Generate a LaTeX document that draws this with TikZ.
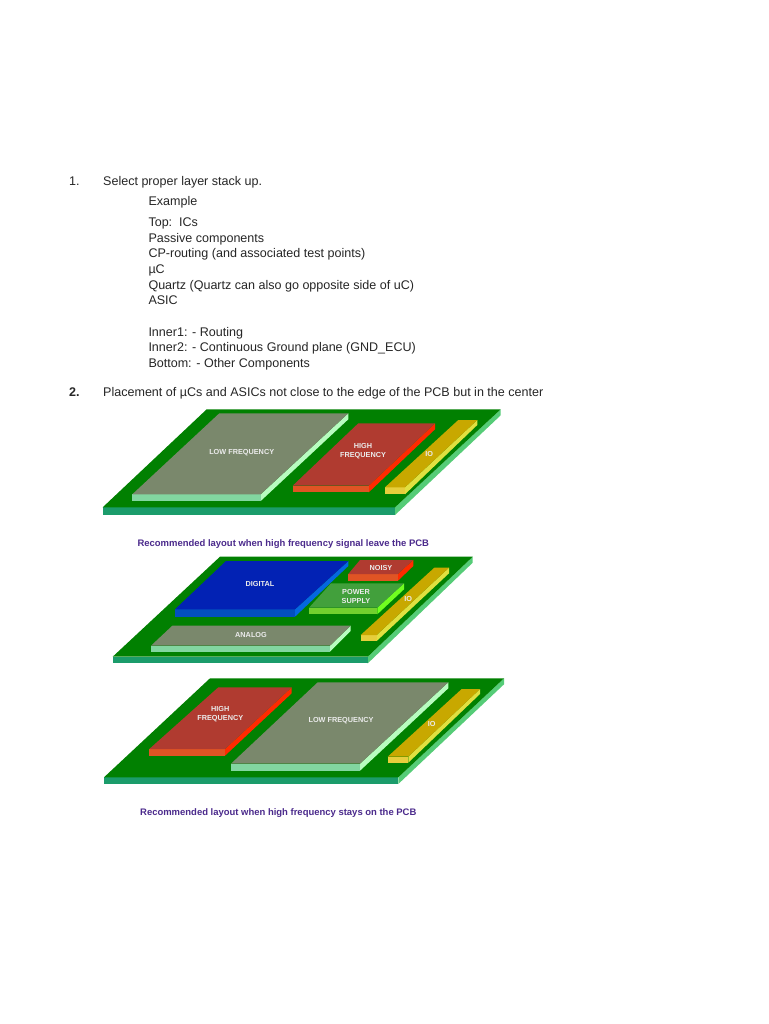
\documentclass[tikz,border=0pt]{standalone}
\usepackage{fontspec}
\setmainfont{Liberation Sans}
\usepackage{tikz}
\usetikzlibrary{calc}
\definecolor{boardtop}{HTML}{018001}
\definecolor{boardfront}{HTML}{1B9C6B}
\definecolor{boardside}{HTML}{55CC77}
\definecolor{greytop}{HTML}{7A886C}
\definecolor{greyfront}{HTML}{82D6A0}
\definecolor{greyside}{HTML}{B8FCC0}
\definecolor{redtop}{HTML}{B03B30}
\definecolor{redfront}{HTML}{E05424}
\definecolor{redside}{HTML}{FF2A00}
\definecolor{iotop}{HTML}{C8A800}
\definecolor{iofront}{HTML}{E6CE3C}
\definecolor{ioside}{HTML}{E0E040}
\definecolor{bluetop}{HTML}{0222B4}
\definecolor{bluefront}{HTML}{0350BE}
\definecolor{blueside}{HTML}{0468E0}
\definecolor{powertop}{HTML}{42A03C}
\definecolor{powerfront}{HTML}{72D02E}
\definecolor{powerside}{HTML}{70FF20}
\definecolor{capcolor}{HTML}{4B2A8C}
\tikzset{
  bodytext/.style={anchor=base west, inner sep=0pt, text=black!85, font=\fontsize{12.54}{14}\selectfont},
  slablabel/.style={inner sep=0pt, text=white!92!black, align=center, font=\fontsize{7.3}{9}\selectfont\bfseries},
  captext/.style={inner sep=0pt, text=capcolor, font=\fontsize{9.47}{11}\selectfont\bfseries},
}
% colour, top left, top right, bottom left, bottom right, front height, side height
\newcommand{\slab}[7]{
\fill[#1side] (#3) -- ++(0,#7) -- ($(#5)+(0,#6)$) -- (#5) -- cycle;
\fill[#1front] (#4) -- ++(0,#6) -| (#5) -- cycle;
\fill[#1top] (#2) -- (#3) -- (#5) -- (#4) -- cycle;
}
\begin{document}
\begin{tikzpicture}[x=1pt, y=-1pt]
\useasboundingbox[fill=white] (0,0) rectangle (768,1024);
% text
\node[bodytext] (numone) at (69,185.7) {1.};
\node[bodytext] (stack) at (103,185.7) {Select proper layer stack up.};
\node[bodytext] (example) at (148.3,206) {Example};
\node[bodytext] (top) at (148.3,226.7) {Top:\ \ ICs};
\node[bodytext] (passive) at (148.3,242) {Passive components};
\node[bodytext] (cprouting) at (148.3,257.7) {CP-routing (and associated test points)};
\node[bodytext] (muc) at (148.3,273.3) {µC};
\node[bodytext] (quartz) at (148.3,289) {Quartz (Quartz can also go opposite side of uC)};
\node[bodytext] (asic) at (148.3,304.3) {ASIC};
\node[bodytext] (innerone) at (148.3,336) {Inner1: - Routing};
\node[bodytext] (innertwo) at (148.3,351.7) {Inner2: - Continuous Ground plane (GND\_ECU)};
\node[bodytext] (bottom) at (148.3,367.3) {Bottom: - Other Components};
\node[bodytext] (numtwo) at (69,396.7) {\bfseries 2.};
\node[bodytext] (placement) at (103,396.7) {Placement of µCs and ASICs not close to the edge of the PCB but in the center};
% first board
\slab{board}{206.7,409.3}{500.7,409.3}{102.7,507.3}{395,507.3}{7.7}{6}
\slab{grey}{219.3,413.3}{348.3,413.3}{132.3,494.3}{260.7,494.3}{6.7}{6}
\slab{red}{358.3,423.3}{435,423.3}{292.7,485.7}{368.7,485.7}{6.7}{6}
\slab{io}{458.3,420}{477.3,420}{385,487.3}{405,487.3}{7}{5}
\node[slablabel] (lowone) at (241.7,452.3) {LOW FREQUENCY};
\node[slablabel] (highone) at (363,451) {HIGH\\FREQUENCY};
\node[slablabel] (ioone) at (429.3,454.3) {IO};
\node[captext] (capone) at (283.3,544) {Recommended layout when high frequency signal leave the PCB};
% second board
\slab{board}{220,556.7}{472.7,556.7}{112.7,656.7}{367.7,656.7}{6.7}{6}
\slab{blue}{226,561}{348.3,561}{175,609.3}{295,609.3}{7.4}{5}
\slab{red}{360,560}{413.3,560}{348.3,574}{397.7,574}{7}{6}
\slab{power}{331,583.3}{404,583.3}{309,607.7}{377.3,607.7}{6.6}{6}
\slab{grey}{172.3,625.7}{350.7,625.7}{151,645.7}{330,645.7}{6}{5.3}
\slab{io}{434.3,567.7}{449,567.7}{360.7,635}{376.7,635}{6}{5.6}
\node[slablabel] (digital) at (260,584.3) {DIGITAL};
\node[slablabel] (noisy) at (381,567.7) {NOISY};
\node[slablabel] (power) at (356,596.2) {POWER\\SUPPLY};
\node[slablabel] (analog) at (251,635.3) {ANALOG};
\node[slablabel] (iotwo) at (408.3,598.7) {IO};
% third board
\slab{board}{210,678.3}{504,678.3}{104,777.3}{398.3,777.3}{6.7}{6}
\slab{red}{218.3,687.3}{291.7,687.3}{149.3,749}{225,749}{6.7}{6}
\slab{grey}{317.7,682.3}{448.3,682.3}{231,763.7}{360,763.7}{7}{6}
\slab{io}{461.7,689}{480,689}{387.7,756.7}{408.3,756.7}{6}{5}
\node[slablabel] (highthree) at (220.3,714.5) {HIGH\\FREQUENCY};
\node[slablabel] (lowthree) at (341,721) {LOW FREQUENCY};
\node[slablabel] (iothree) at (431.7,723.7) {IO};
\node[captext] (capthree) at (278.3,813.3) {Recommended layout when high frequency stays on the PCB};
\end{tikzpicture}
\end{document}
